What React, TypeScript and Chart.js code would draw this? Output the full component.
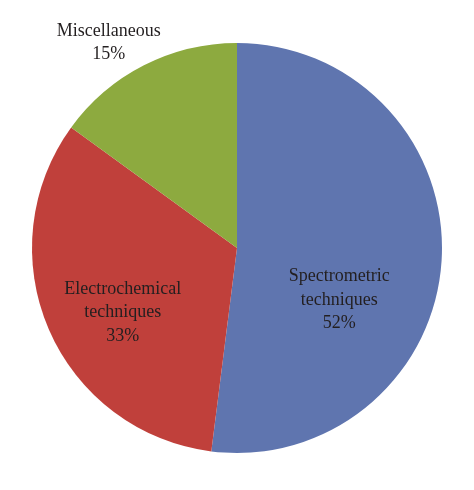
import React, { useEffect, useRef } from 'react';
import { Chart, registerables } from 'chart.js';

Chart.register(...registerables);

// data
const categories = [['Spectrometric', 'techniques'], ['Electrochemical', 'techniques'], ['Miscellaneous']];
const shares = [52, 33, 15];
const sliceColors = ['#5F75AF', '#C0403B', '#8DAA3F'];

// where each label sits: angle shift from slice middle (deg) and radius as fraction of pie radius
const labelAnchors = [
  { shift: 23.4, r: 0.56 },
  { shift: -6, r: 0.64 },
  { shift: -5, r: 1.18 },
];

const sliceLabels = {
  id: 'sliceLabels',
  afterDatasetsDraw(chart: any) {
    const { ctx } = chart;
    const meta = chart.getDatasetMeta(0);
    ctx.save();
    ctx.font = '18px "Liberation Serif", "Times New Roman", serif';
    ctx.fillStyle = '#231f20';
    ctx.textAlign = 'center';
    ctx.textBaseline = 'middle';
    meta.data.forEach((arc: any, i: number) => {
      const p = arc.getProps(['x', 'y', 'startAngle', 'endAngle', 'outerRadius'], true);
      const mid = (p.startAngle + p.endAngle) / 2 + (labelAnchors[i].shift * Math.PI) / 180;
      const cx = p.x + Math.cos(mid) * p.outerRadius * labelAnchors[i].r;
      const cy = p.y + Math.sin(mid) * p.outerRadius * labelAnchors[i].r;
      const lines = [...categories[i], shares[i] + '%'];
      const lh = 23.5;
      lines.forEach((t, k) => {
        ctx.fillText(t, cx, cy + (k - (lines.length - 1) / 2) * lh);
      });
    });
    ctx.restore();
  },
};

const PieChart = () => {
  const chartRef = useRef<HTMLCanvasElement>(null);
  const chartInstance = useRef<Chart | null>(null);

  useEffect(() => {
    document.body.style.margin = '0';
    if (chartRef.current) {
      if (chartInstance.current) {
        chartInstance.current.destroy();
      }
      chartInstance.current = new Chart(chartRef.current, {
        type: 'pie',
        data: {
          labels: categories.map((c) => c.join(' ')),
          datasets: [
            {
              data: shares,
              backgroundColor: sliceColors,
              borderWidth: 0,
              hoverOffset: 0,
            },
          ],
        },
        options: {
          responsive: false,
          animation: false,
          layout: { padding: { top: 43, bottom: 37, left: 32, right: 32 } },
          plugins: {
            legend: { display: false },
            tooltip: { enabled: false },
          },
        },
        plugins: [sliceLabels],
      });
    }

    return () => {
      if (chartInstance.current) {
        chartInstance.current.destroy();
        chartInstance.current = null;
      }
    };
  }, []);

  return (
    <div style={{ width: 474, height: 490, background: '#fff' }}>
      <canvas ref={chartRef} width={474} height={490} />
    </div>
  );
};

export default function App() {
  return <PieChart />;
}
